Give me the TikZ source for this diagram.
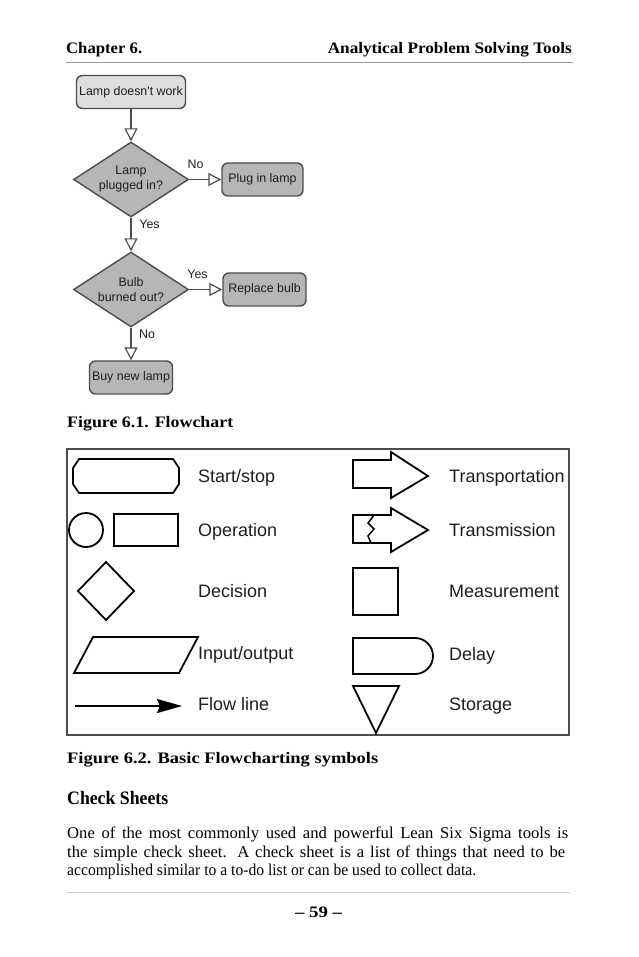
\documentclass[tikz,border=0pt]{standalone}
\usepackage{fontspec}
\setmainfont{Liberation Serif}
\newfontfamily\sansf{Liberation Sans}
\usepackage{graphicx}
\usetikzlibrary{arrows.meta,shapes.geometric}
\newsavebox\fitbox
\newlength\fitlen
\newcommand\fitto[2]{\sbox\fitbox{#2}\fitlen=\wd\fitbox\pgfmathsetmacro\fitr{#1/\the\fitlen}\scalebox{\fitr}[1]{\usebox\fitbox}}
\newcommand\justline[2]{\sbox\fitbox{#2}\fitlen=\wd\fitbox\pgfmathsetmacro\jr{(#1/\the\fitlen+\bodyr)/2}\pgfmathsetmacro\jw{#1/\jr}\scalebox{\jr}[1]{\makebox[\jw pt][s]{#2}}}
\definecolor{fclight}{HTML}{DEDEDE}
\definecolor{fcdark}{HTML}{B6B6B6}
\definecolor{fcline}{HTML}{4D4D4D}
\definecolor{txt}{HTML}{1E1E1E}
\definecolor{rulegray}{HTML}{9A9A9A}
\definecolor{rulelight}{HTML}{CFCFCF}
\tikzset{
  fcbox/.style={draw=fcline, line width=1.4pt, rounded corners=6pt, fill=fcdark, minimum height=33pt, inner sep=0pt, font=\sansf\fontsize{12.4}{15}\selectfont, text=txt},
  fcdia/.style={diamond, draw=fcline, line width=1.4pt, fill=fcdark, aspect=1.53, minimum width=115pt, minimum height=75pt, inner sep=0pt, align=center, font=\sansf\fontsize{12.4}{15}\selectfont, text=txt},
  fcarrow/.style={draw=fcline, line width=1.4pt, -{Triangle[length=13pt,width=13pt,fill=white,line width=1.2pt]}},
  fclabel/.style={font=\sansf\fontsize{12.4}{14}\selectfont, text=txt, inner sep=0pt},
  sym/.style={draw=black, line width=1.8pt, line join=miter},
  symlabel/.style={anchor=base west, font=\sansf\fontsize{18}{20}\selectfont, text=txt, inner sep=0pt},
  serifb/.style={font=\fontsize{16}{19}\selectfont\bfseries, text=black, inner sep=0pt},
  bodyline/.style={anchor=base west, font=\fontsize{16.5}{19}\selectfont, text=black, inner sep=0pt}
}
\begin{document}
\begin{tikzpicture}[x=1pt,y=-1pt]
\useasboundingbox (0,0) rectangle (638,957);
% header
\node[serifb, anchor=base west] (hleft) at (66,53.3) {\fitto{76}{Chapter 6.}};
\node[serifb, anchor=base east] (hright) at (572,53.3) {\fitto{244}{Analytical Problem Solving Tools}};
\draw[rulegray, line width=1pt] (66,63) -- (573,63);

% flowchart
\node[fcbox, fill=fclight, minimum width=109pt] (n1) at (131,92) {Lamp doesn't work};
\node[fcdia] (d1) at (131,179.5) {Lamp\\plugged in?};
\node[fcbox, minimum width=81pt] (plug) at (262.5,179.5) {Plug in lamp};
\node[fcdia] (d2) at (131,289.5) {Bulb\\burned out?};
\node[fcbox, minimum width=83pt] (repl) at (264.5,289.5) {Replace bulb};
\node[fcbox, minimum width=83pt] (buy) at (131,377.5) {Buy new lamp};
\draw[fcarrow] (n1.south) -- (d1.north);
\draw[fcarrow] (d1.east) -- (plug.west);
\draw[fcarrow] (d1.south) -- (d2.north);
\draw[fcarrow] (d2.east) -- (repl.west);
\draw[fcarrow] (d2.south) -- (buy.north);
\node[fclabel] (lno1) at (195.5,164) {No};
\node[fclabel] (lyes1) at (149.5,224) {Yes};
\node[fclabel] (lyes2) at (197.5,274) {Yes};
\node[fclabel] (lno2) at (147,334) {No};

\node[serifb, anchor=base west] (cap1) at (67,427.7) {\fitto{166}{Figure 6.1. Flowchart}};

% symbols box
\draw[draw=fcline, line width=2pt] (67,449) rectangle (569,735);
% start/stop
\draw[sym] (79,459) -- (173,459) -- (179,468) -- (179,484) -- (173,493) -- (79,493) -- (73,484) -- (73,468) -- cycle;
\node[symlabel] (lstart) at (198,482.4) {Start/stop};
% operation
\draw[sym] (86,530) circle (17);
\draw[sym] (114,514) rectangle (178,546);
\node[symlabel] (lop) at (198,536.4) {Operation};
% decision
\draw[sym] (106,562) -- (134,591) -- (106,620) -- (78,591) -- cycle;
\node[symlabel] (ldec) at (198,597.4) {Decision};
% input/output
\draw[sym] (74,673) -- (179,673) -- (198,637) -- (93,637) -- cycle;
\node[symlabel] (lio) at (198,659.4) {Input/output};
% flow line
\coordinate (fla) at (75,706);
\coordinate (flb) at (182,706);
\draw[draw=black, line width=1.8pt, -{Stealth[length=25pt,width=14pt,inset=3pt]}] (fla) -- (flb);
\node[symlabel] (lflow) at (198,710.4) {Flow line};

% transportation
\draw[sym] (353,460) -- (391,460) -- (391,452) -- (428,476) -- (391,498) -- (391,488) -- (353,488) -- cycle;
\node[symlabel] (ltrans) at (449,482.4) {Transportation};
% transmission
\draw[sym] (353,515) -- (391,515) -- (391,508) -- (428,530) -- (391,552) -- (391,543) -- (353,543) -- cycle;
\draw[draw=black, line width=1.5pt] (374,515) -- (368,523) -- (374,529) -- (368,536) -- (371,543);
\node[symlabel] (ltm) at (449,536.4) {Transmission};
% measurement
\draw[sym] (353,568) rectangle (398,615);
\node[symlabel] (lmeas) at (449,597.4) {Measurement};
% delay
\draw[sym] (353,638) -- (415,638) arc[start angle=-90, end angle=90, radius=18] -- (353,674) -- cycle;
\node[symlabel] (ldelay) at (449,660.4) {Delay};
% storage
\draw[sym] (353,686) -- (399,686) -- (376,733) -- cycle;
\node[symlabel] (lstor) at (449,710.4) {Storage};

\node[serifb, anchor=base west] (cap2) at (67,763.3) {\fitto{311}{Figure 6.2. Basic Flowcharting symbols}};
\node[anchor=base west, font=\fontsize{19}{22}\selectfont\bfseries, inner sep=0pt] (sect) at (67,804) {\fitto{101}{Check Sheets}};
\node[bodyline] (b3) at (67,875.5) {\fitto{409}{accomplished similar to a to-do list or can be used to collect data.}\global\let\bodyr\fitr};
\node[bodyline] (b1) at (67,838.5) {\justline{501}{One of the most commonly used and powerful Lean Six Sigma tools is}};
\node[bodyline] (b2) at (67,857) {\justline{498}{the simple check sheet. A check sheet is a list of things that need to be}};
\draw[rulelight, line width=1pt] (66,892) -- (570,892);
\node[serifb, anchor=base] (pg) at (318.5,917) {\fitto{47}{-- 59 --}};
\end{tikzpicture}
\end{document}
